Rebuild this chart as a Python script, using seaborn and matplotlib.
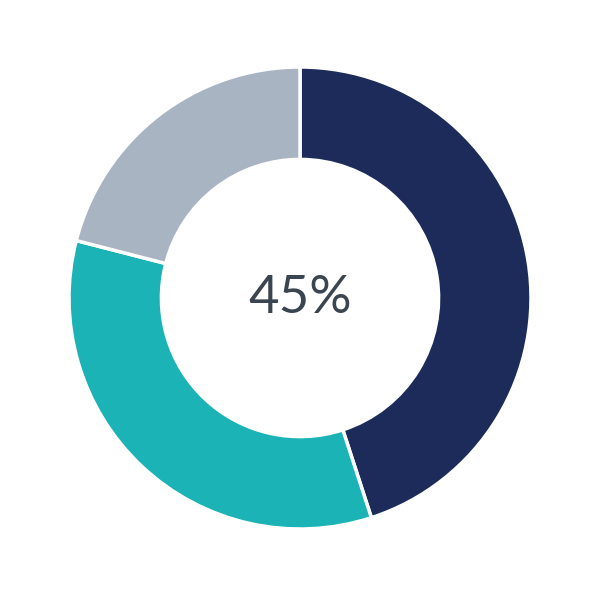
import matplotlib
matplotlib.use("Agg")
import matplotlib.pyplot as plt
import seaborn as sns

# dati della ciambella
labels = ["A", "B", "C"]
values = [45, 34, 21]
colors = ["#1c2b5a", "#1bb3b5", "#a9b4c2"]
center_label = "45%"

sns.set_theme(style="white")
plt.rcParams["font.family"] = ["Lato", "DejaVu Sans"]

fig = plt.figure(figsize=(6, 5.99), dpi=100)
ax = fig.add_axes([0, 0, 1, 1])

R = 231
ax.pie(values, colors=colors, startangle=90, counterclock=False, radius=1,
       wedgeprops=dict(width=0.4, edgecolor="white", linewidth=2.5))

ax.text(0, 0, center_label, ha="center", va="center", fontsize=38,
        color="#3a4550")

ax.set_xlim(-300 / R, 300 / R)
ax.set_ylim(-(599 - 298) / R, 298 / R)
ax.set_aspect("auto")
ax.axis("off")

plt.savefig("out.png", dpi=100)
